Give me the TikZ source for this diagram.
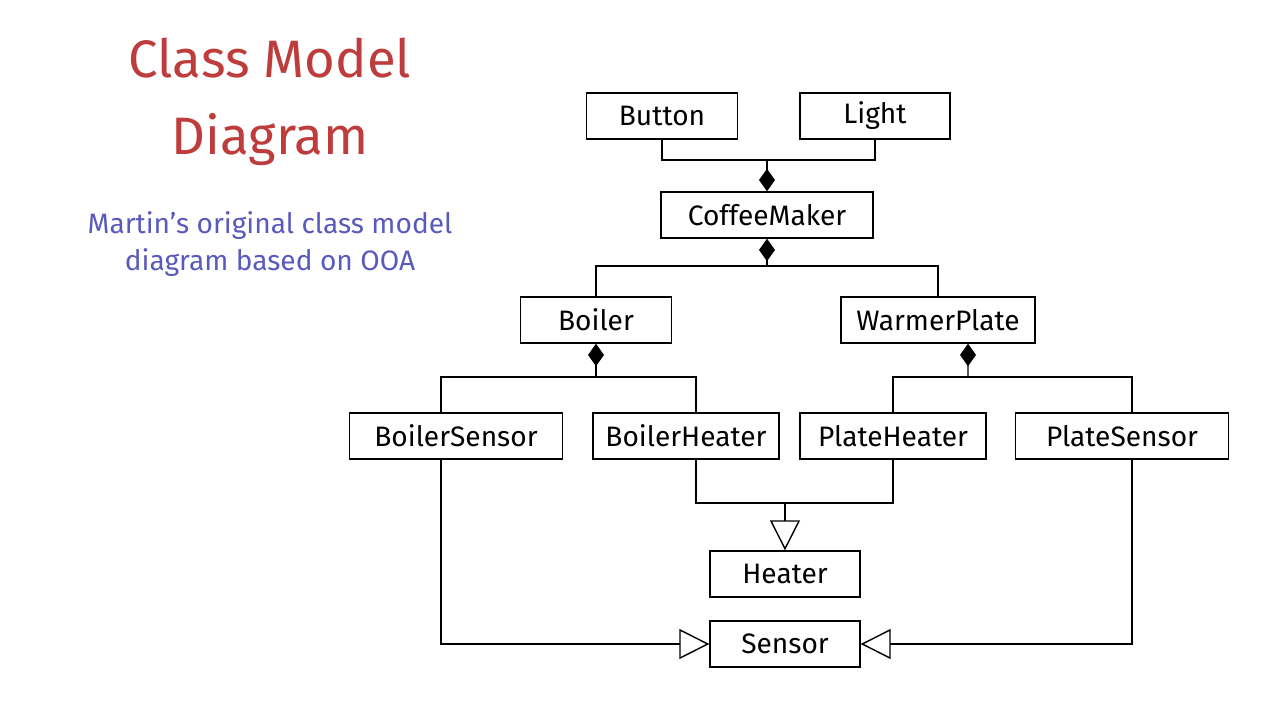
\documentclass[tikz,border=0pt]{standalone}
\usepackage{fontspec}
\setmainfont{Fira Sans}
\usetikzlibrary{arrows.meta}

\definecolor{titlered}{RGB}{190,60,60}
\definecolor{notepurple}{RGB}{90,90,190}

\begin{document}
\begin{tikzpicture}[x=0.02cm, y=-0.02cm,
cls/.style={draw, thick, minimum height=0.92cm, inner sep=0pt, font=\fontsize{16}{19}\selectfont},
link/.style={thick},
part/.style={thick, {Diamond[fill=black, length=0.45cm, width=0.32cm]}-},
isa/.style={thick, -{Triangle[open, length=0.6cm, width=0.6cm]}},
]
\useasboundingbox (0,0) rectangle (1280,720);

% title and note
\node (title) [align=center, text=titlered, font=\fontsize{30}{44}\selectfont] at (270,102) {Class Model\\Diagram};
\node (note) [align=center, text=notepurple, font=\fontsize{16}{21}\selectfont] at (270,244) {Martin's original class model\\diagram based on OOA};

% classes
\node (Button) [cls, minimum width=3.02cm] at (662,116) {Button};
\node (Light) [cls, minimum width=3.0cm] at (875,116) {Light};
\node (CoffeeMaker) [cls, minimum width=4.24cm] at (767,215) {CoffeeMaker};
\node (Boiler) [cls, minimum width=3.02cm] at (596,320) {Boiler};
\node (WarmerPlate) [cls, minimum width=3.88cm] at (938,320) {WarmerPlate};
\node (BoilerSensor) [cls, minimum width=4.26cm] at (456,436) {BoilerSensor};
\node (BoilerHeater) [cls, minimum width=3.72cm] at (686,436) {BoilerHeater};
\node (PlateHeater) [cls, minimum width=3.72cm] at (893,436) {PlateHeater};
\node (PlateSensor) [cls, minimum width=4.26cm] at (1122,436) {PlateSensor};
\node (Heater) [cls, minimum width=3.0cm] at (785,574) {Heater};
\node (Sensor) [cls, minimum width=3.0cm] at (785,644) {Sensor};

% junctions
\coordinate (cm) at (767,160);
\coordinate (bw) at (767,266);
\coordinate (bb) at (596,377);
\coordinate (wp) at (968,377);
\coordinate (ht) at (785,503);

% aggregation
\draw[link] (Button.south) |- (cm) -| (Light.south);
\draw[part] (CoffeeMaker.north) -- (cm);
\draw[part] (CoffeeMaker.south) -- (bw);
\draw[link] (Boiler.north) |- (bw) -| (WarmerPlate.north);
\draw[part] (Boiler.south) -- (bb);
\draw[link] ([xshift=-0.3cm]BoilerSensor.north) |- (bb) -| ([xshift=0.2cm]BoilerHeater.north);
\draw[part] ([xshift=0.6cm]WarmerPlate.south) -- (wp);
\draw[link] (PlateHeater.north) |- (wp) -| ([xshift=0.2cm]PlateSensor.north);

% inheritance
\draw[link] ([xshift=0.2cm]BoilerHeater.south) |- (ht) -| (PlateHeater.south);
\draw[isa] (ht) -- (Heater.north);
\draw[isa] ([xshift=-0.3cm]BoilerSensor.south) |- (Sensor.west);
\draw[isa] ([xshift=0.2cm]PlateSensor.south) |- (Sensor.east);
\end{tikzpicture}
\end{document}
